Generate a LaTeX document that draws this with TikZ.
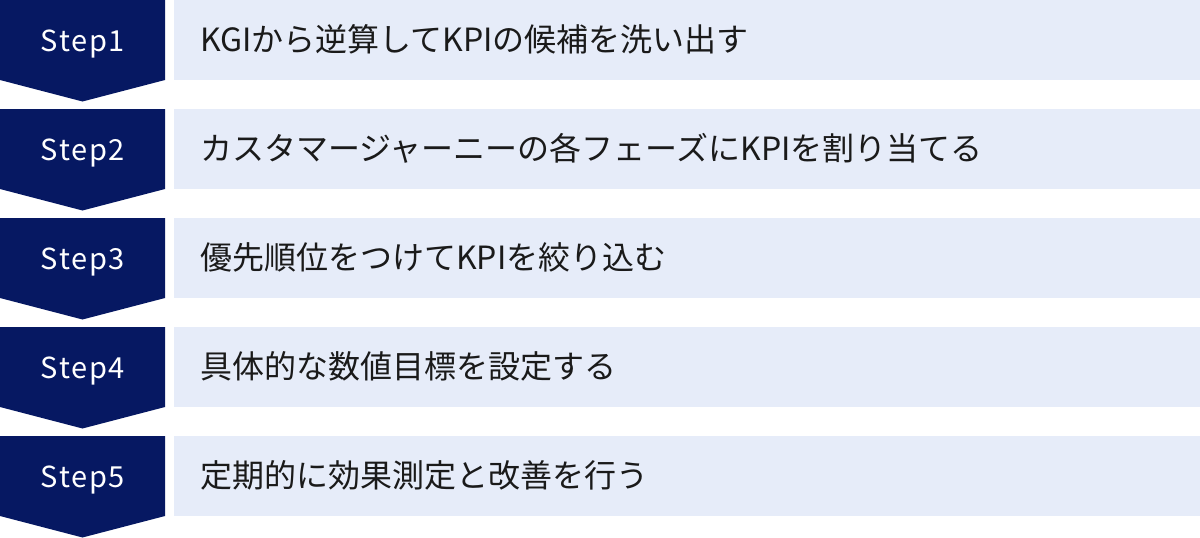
\documentclass[tikz,border=0pt]{standalone}
\usepackage{fontspec}
\setmainfont{Noto Sans CJK JP}
\newfontfamily\stepfont[LetterSpace=6]{Noto Sans CJK JP}
\definecolor{navy}{HTML}{061862}
\definecolor{pale}{HTML}{E6ECF9}
\definecolor{ink}{HTML}{1A1A1A}
\tikzset{
  chevron/.style={fill=navy, draw=none},
  panel/.style={fill=pale, draw=none},
  steplabel/.style={text=white, anchor=base, inner sep=0pt, font=\stepfont\fontsize{29}{34}\selectfont},
  stepdesc/.style={text=ink, anchor=base west, inner sep=0pt, font=\fontsize{32}{38}\selectfont}
}
\begin{document}
\begin{tikzpicture}[x=1pt,y=-1pt]
\useasboundingbox (0,0) rectangle (1200,538);
\foreach \i/\txt in {0/{KGIから逆算してKPIの候補を洗い出す},
                     1/{カスタマージャーニーの各フェーズにKPIを割り当てる},
                     2/{優先順位をつけてKPIを絞り込む},
                     3/{具体的な数値目標を設定する},
                     4/{定期的に効果測定と改善を行う}}{
  \pgfmathsetmacro{\t}{109*\i}
  \pgfmathtruncatemacro{\n}{\i+1}
  \fill[chevron] (0,\t) -- (165,\t) -- (165,\t+80) -- (82.5,\t+101.5) -- (0,\t+80) -- cycle;
  \fill[panel] (174,\t) rectangle (1200,\t+80);
  \node[steplabel] (step\n) at (83,\t+51.5) {Step\n};
  \node[stepdesc] (desc\n) at (200,\t+51.5) {\txt};
}
\end{tikzpicture}
\end{document}
